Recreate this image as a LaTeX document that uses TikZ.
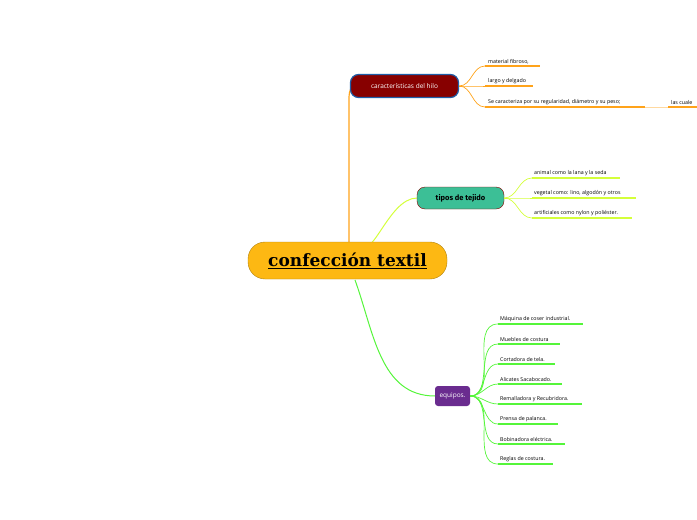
\documentclass[tikz,border=0pt]{standalone}
\usepackage{fontspec}
\setmainfont{Open Sans}
\newfontfamily\rootfont{DejaVu Serif}
\newfontfamily\tipfont{Fira Sans}
\definecolor{rootc}{HTML}{FDB813}
\definecolor{car}{HTML}{870000}
\definecolor{carb}{HTML}{1F5FA8}
\definecolor{tip}{HTML}{3CBF96}
\definecolor{equ}{HTML}{6A2C8F}
\definecolor{orl}{HTML}{FFA31A}
\definecolor{orll}{HTML}{FFD9A0}
\definecolor{yel}{HTML}{D4FF3A}
\definecolor{grn}{HTML}{55F53A}
\tikzset{x=1pt,y=-1pt,
 leaf/.style={anchor=south west,inner sep=1pt,font=\fontsize{5.3}{6}\selectfont},
 ul/.style={line width=1.3pt}}
\begin{document}
\begin{tikzpicture}
\useasboundingbox (0,0) rectangle (697,520);
% connectors
\draw[orl,line width=1.2pt] (349,242) -- (349,105) to[out=90,in=180] (356,86);
\draw[yel,line width=1pt] (356,243) to[out=-60,in=180] (417,198);
\draw[grn,line width=1pt] (355,280) to[out=-70,in=180] (435,396);
% root
\node[draw=rootc!70!black,fill=rootc,rounded corners=17pt,minimum width=199pt,minimum height=37pt] (root) at (347.5,260.5)
 {\rootfont\bfseries\fontsize{17}{20}\selectfont\underline{confección textil}};
% caracteristicas
\node[draw=carb,line width=1.2pt,fill=car,rounded corners=8pt,minimum width=108pt,minimum height=23pt,text=white,font=\fontsize{6.5}{8}\selectfont] (car) at (404.5,86) {características del hilo};
\foreach \t/\y/\e in {{material fibroso,}/66/540,{largo y delgado}/86/533,{Se caracteriza por su regularidad, diámetro y su peso;}/107/645}{
 \draw[orl,line width=0.7pt] (car.east) to[out=0,in=180] (485,\y);
 \draw[orl,ul] (485,\y) -- (\e,\y);
 \node[leaf] at (487,\y-1) {\t};}
\draw[orll,line width=1pt] (645,107) -- (668,107);
\draw[orl,ul] (668,107) -- (697,107);
\node[leaf] at (670,106) {las cuale};
% tipos
\node[draw=car,fill=tip,rounded corners=8pt,minimum width=87pt,minimum height=22pt,font=\tipfont\bfseries\fontsize{7.5}{9}\selectfont] (tip) at (460.5,198) {tipos de tejido};
\foreach \t/\y/\e in {{animal como la lana y la seda}/178/620,{vegetal como: lino, algodón y otros}/198/636,{artificiales como nylon y poliéster.}/218/632}{
 \draw[yel,line width=0.7pt] (tip.east) to[out=0,in=180] (532,\y);
 \draw[yel,ul] (532,\y) -- (\e,\y);
 \node[leaf] at (533,\y-1) {\t};}
% equipos
\node[fill=equ,rounded corners=3pt,minimum width=35pt,minimum height=20pt,text=white,font=\fontsize{6.5}{8}\selectfont] (equ) at (452.5,396) {equipos.};
\foreach \t/\y/\e in {{Máquina de coser industrial.}/324/583,{Muebles de costura}/344/560,{Cortadora de tela.}/364/555,{Alicates Sacabocado.}/384/562,{Remalladora y Recubridora.}/404/582,{Prensa de palanca.}/424/558,{Bobinadora eléctrica.}/444/565,{Reglas de costura.}/464/553}{
 \draw[grn,line width=0.7pt] (equ.east) to[out=0,in=180] (498,\y);
 \draw[grn,ul] (498,\y) -- (\e,\y);
 \node[leaf] at (499,\y-1) {\t};}
\end{tikzpicture}
\end{document}
